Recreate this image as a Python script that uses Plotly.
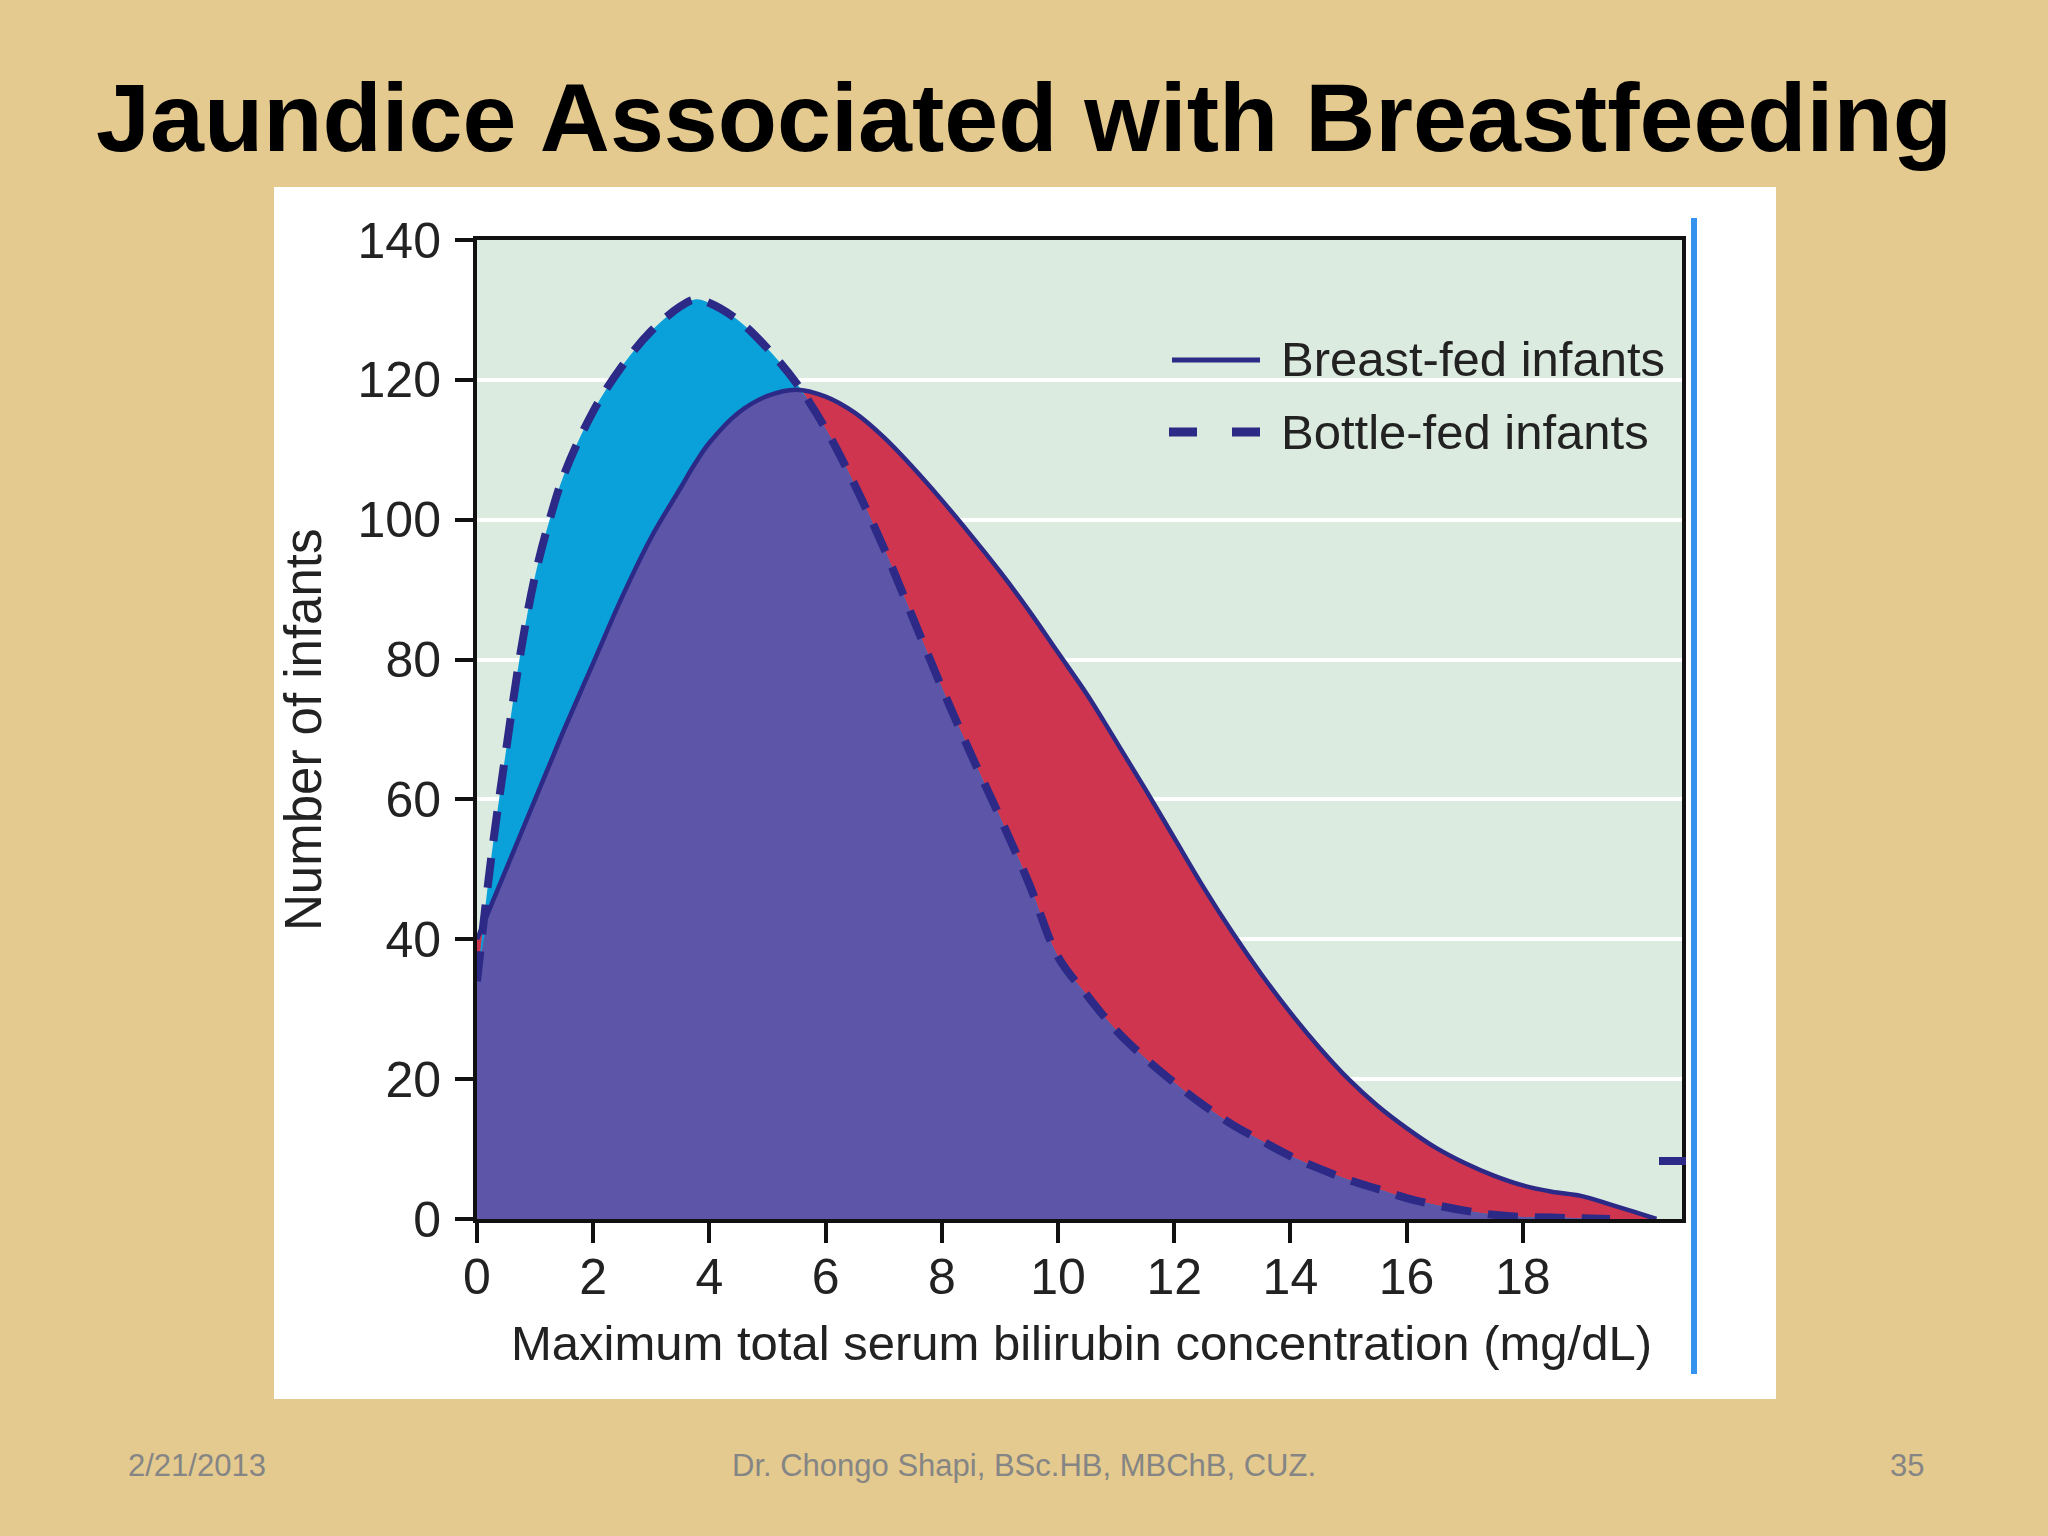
import numpy as np
import plotly.graph_objects as go

# ---------------- data ----------------
x_vals = [0, 0.25, 0.5, 0.75, 1, 1.25, 1.5, 2, 2.5, 3, 3.5, 3.75, 4, 4.5, 5, 5.5,
          6, 6.5, 7, 7.5, 8, 8.5, 9, 9.5, 10, 10.5, 11, 11.5, 12, 12.5, 13, 13.5,
          14, 14.5, 15, 15.5, 16, 16.5, 17, 17.5, 18, 18.5, 19, 19.5, 20, 20.3]

breast_fed = [40, 45, 50, 55, 60, 65, 70, 79.5, 89, 97.5, 104.5, 108, 111, 115.3, 117.7, 118.6,
              117.6, 115.3, 111.8, 107.5, 102.8, 97.8, 92.6, 87, 81, 75, 68.3, 61.5, 54.5, 47.5, 41, 35,
              29.5, 24.5, 20, 16.2, 13, 10.2, 8, 6.2, 4.8, 3.9, 3.3, 2.1, 0.8, 0]

bottle_fed = [34, 52, 67, 81, 92, 100, 106.5, 115.5, 122, 127, 130.5, 131.5, 131, 128.5, 124.5, 119.5,
              113, 105, 96, 86, 76, 66.5, 57.5, 48, 37.5, 32, 27, 23, 19.5, 16.3, 13.5, 11.2,
              9, 7.2, 5.6, 4.3, 3, 2, 1.2, 0.6, 0.3, 0.2, 0.1, 0, 0, 0]

x_ticks = [0, 2, 4, 6, 8, 10, 12, 14, 16, 18]
y_ticks = [0, 20, 40, 60, 80, 100, 120, 140]

title_text = "Jaundice Associated with Breastfeeding"
x_title = "Maximum total serum bilirubin concentration (mg/dL)"
y_title = "Number of infants"
legend_names = ["Breast-fed infants", "Bottle-fed infants"]
footer_left = "2/21/2013"
footer_mid = "Dr. Chongo Shapi, BSc.HB, MBChB, CUZ."
footer_right = "35"

# ---------------- layout helpers ----------------
W, H = 2048, 1536
def fx(px):
    return px / W
def fy(py):
    return 1 - py / H

PLOT_L, PLOT_R, PLOT_T, PLOT_B = 477, 1682, 240, 1219

RED = "#d0354f"
CYAN = "#0aa0d9"
PURPLE = "#5c55a8"
NAVY = "#2c2a86"
PLOT_BG = "#dcebdf"
FONT = "Liberation Sans, Arial, sans-serif"

overlap = np.minimum(np.array(breast_fed), np.array(bottle_fed))

fig = go.Figure()
fig.add_trace(go.Scatter(x=x_vals, y=breast_fed, mode="lines", fill="tozeroy",
                         fillcolor=RED, line=dict(width=0, color=RED, shape="spline"),
                         showlegend=False))
fig.add_trace(go.Scatter(x=x_vals, y=bottle_fed, mode="lines", fill="tozeroy",
                         fillcolor=CYAN, line=dict(width=0, color=CYAN, shape="spline"),
                         showlegend=False))
fig.add_trace(go.Scatter(x=x_vals, y=overlap, mode="lines", fill="tozeroy",
                         fillcolor=PURPLE, line=dict(width=0, color=PURPLE, shape="spline"),
                         showlegend=False))
fig.add_trace(go.Scatter(x=x_vals, y=breast_fed, mode="lines", name=legend_names[0],
                         line=dict(width=4.5, color=NAVY, shape="spline"), showlegend=False))
fig.add_trace(go.Scatter(x=x_vals[:-2], y=bottle_fed[:-2], mode="lines", name=legend_names[1],
                         line=dict(width=8, color=NAVY, dash="30px,17px", shape="spline"),
                         showlegend=False))

shapes = [
    # white chart panel
    dict(type="rect", xref="paper", yref="paper", x0=fx(274), x1=fx(1776), y0=fy(1399), y1=fy(187),
         fillcolor="white", line=dict(width=0), layer="below"),
    # plot-area background (drawn above the white panel, below gridlines)
    dict(type="rect", xref="paper", yref="paper", x0=fx(PLOT_L), x1=fx(PLOT_R),
         y0=fy(PLOT_B), y1=fy(PLOT_T), fillcolor=PLOT_BG, line=dict(width=0), layer="below"),
    # blue vertical line at right
    dict(type="line", xref="paper", yref="paper", x0=fx(1694), x1=fx(1694), y0=fy(218), y1=fy(1374),
         line=dict(color="#3592ee", width=6)),
    # small dash remnant
    dict(type="line", xref="paper", yref="paper", x0=fx(1659), x1=fx(1686), y0=fy(1161), y1=fy(1161),
         line=dict(color=NAVY, width=8)),
    # legend samples
    dict(type="line", xref="paper", yref="paper", x0=fx(1172), x1=fx(1260), y0=fy(360), y1=fy(360),
         line=dict(color=NAVY, width=5)),
    dict(type="line", xref="paper", yref="paper", x0=fx(1169), x1=fx(1260), y0=fy(432), y1=fy(432),
         line=dict(color=NAVY, width=9, dash="28px,35px")),
]

annotations = [
    dict(text=title_text, x=0.5, y=fy(118), xref="paper", yref="paper", showarrow=False,
         xanchor="center", yanchor="middle",
         font=dict(family=FONT, size=97, color="black", weight="bold")),
    dict(text=y_title, x=fx(303), y=fy(730), xref="paper", yref="paper", showarrow=False,
         textangle=-90, xanchor="center", yanchor="middle",
         font=dict(family=FONT, size=51, color="#222")),
    dict(text=x_title, x=fx(1081), y=fy(1343), xref="paper", yref="paper", showarrow=False,
         xanchor="center", yanchor="middle",
         font=dict(family=FONT, size=49, color="#222")),
    dict(text=legend_names[0], x=fx(1279), y=fy(359), xref="paper", yref="paper", showarrow=False,
         xanchor="left", yanchor="middle", font=dict(family=FONT, size=49, color="#222")),
    dict(text=legend_names[1], x=fx(1279), y=fy(432), xref="paper", yref="paper", showarrow=False,
         xanchor="left", yanchor="middle", font=dict(family=FONT, size=49, color="#222")),
    dict(text=footer_left, x=fx(197), y=fy(1465), xref="paper", yref="paper", showarrow=False,
         xanchor="center", yanchor="middle", font=dict(family=FONT, size=31, color="#858585")),
    dict(text=footer_mid, x=fx(1024), y=fy(1465), xref="paper", yref="paper", showarrow=False,
         xanchor="center", yanchor="middle", font=dict(family=FONT, size=31, color="#858585")),
    dict(text=footer_right, x=fx(1907), y=fy(1465), xref="paper", yref="paper", showarrow=False,
         xanchor="center", yanchor="middle", font=dict(family=FONT, size=31, color="#858585")),
]

fig.update_layout(
    width=W, height=H,
    margin=dict(l=0, r=0, t=0, b=0, pad=0, autoexpand=False),
    paper_bgcolor="#e4ca8e",
    plot_bgcolor=PLOT_BG,
    shapes=shapes,
    annotations=annotations,
    showlegend=False,
    xaxis=dict(domain=[fx(PLOT_L), fx(PLOT_R)], range=[0, 20.74], tickvals=x_ticks,
               ticks="outside", ticklen=20, tickwidth=4, tickcolor="#111",
               showline=True, linewidth=4, linecolor="#111", mirror=True,
               showgrid=False, zeroline=False, ticklabelstandoff=-9, automargin=False,
               tickfont=dict(family=FONT, size=50, color="#222")),
    yaxis=dict(domain=[fy(PLOT_B), fy(PLOT_T)], range=[0, 140], tickvals=y_ticks,
               ticks="outside", ticklen=18, tickwidth=4, tickcolor="#111",
               showline=True, linewidth=4, linecolor="#111", mirror=True,
               showgrid=True, gridcolor="white", gridwidth=4, zeroline=False,
               ticklabelstandoff=4, automargin=False,
               tickfont=dict(family=FONT, size=50, color="#222")),
)

fig.write_html("out.html")
